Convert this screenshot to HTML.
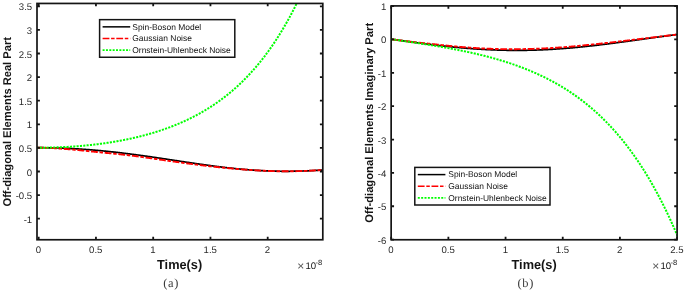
<!DOCTYPE html>
<html><head><meta charset="utf-8"><title>Off-diagonal elements</title>
<style>html,body{margin:0;padding:0;background:#fff}svg{display:block}</style>
</head><body>
<svg text-rendering="geometricPrecision" width="685" height="293" viewBox="0 0 685 293">
<defs>
<clipPath id="cl"><rect x="37" y="3.4" width="285.8" height="236.1"/></clipPath>
<clipPath id="cr"><rect x="391.2" y="6.1" width="285.9" height="233.5"/></clipPath>
</defs>
<rect width="685" height="293" fill="#fff"/>
<g clip-path="url(#cl)" fill="none" stroke-width="1.5">
<path d="M36.41,147.71 L37.13,147.70 L37.86,147.70 L38.58,147.70 L39.30,147.70 L40.03,147.70 L40.75,147.70 L41.47,147.71 L42.20,147.71 L42.92,147.71 L43.64,147.72 L44.36,147.73 L45.09,147.73 L45.81,147.74 L46.53,147.75 L47.26,147.76 L47.98,147.77 L48.70,147.78 L49.43,147.79 L50.15,147.80 L50.87,147.82 L51.60,147.83 L52.32,147.85 L53.04,147.86 L53.77,147.88 L54.49,147.90 L55.21,147.92 L55.94,147.94 L56.66,147.96 L57.38,147.98 L58.10,148.00 L58.83,148.02 L59.55,148.05 L60.27,148.07 L61.00,148.10 L61.72,148.12 L62.44,148.15 L63.17,148.18 L63.89,148.20 L64.61,148.23 L65.34,148.26 L66.06,148.30 L66.78,148.33 L67.51,148.36 L68.23,148.39 L68.95,148.43 L69.68,148.46 L70.40,148.50 L71.12,148.53 L71.84,148.57 L72.57,148.61 L73.29,148.65 L74.01,148.69 L74.74,148.73 L75.46,148.77 L76.18,148.81 L76.91,148.86 L77.63,148.90 L78.35,148.94 L79.08,148.99 L79.80,149.03 L80.52,149.08 L81.25,149.13 L81.97,149.18 L82.69,149.23 L83.42,149.28 L84.14,149.33 L84.86,149.38 L85.58,149.43 L86.31,149.48 L87.03,149.54 L87.75,149.59 L88.48,149.65 L89.20,149.70 L89.92,149.76 L90.65,149.82 L91.37,149.88 L92.09,149.94 L92.82,150.00 L93.54,150.06 L94.26,150.12 L94.99,150.18 L95.71,150.24 L96.43,150.31 L97.16,150.37 L97.88,150.44 L98.60,150.50 L99.32,150.57 L100.05,150.63 L100.77,150.70 L101.49,150.77 L102.22,150.84 L102.94,150.91 L103.66,150.98 L104.39,151.05 L105.11,151.12 L105.83,151.20 L106.56,151.27 L107.28,151.34 L108.00,151.42 L108.73,151.49 L109.45,151.57 L110.17,151.64 L110.90,151.72 L111.62,151.80 L112.34,151.88 L113.06,151.96 L113.79,152.04 L114.51,152.12 L115.23,152.20 L115.96,152.28 L116.68,152.36 L117.40,152.45 L118.13,152.53 L118.85,152.61 L119.57,152.70 L120.30,152.78 L121.02,152.87 L121.74,152.96 L122.47,153.04 L123.19,153.13 L123.91,153.22 L124.64,153.31 L125.36,153.40 L126.08,153.49 L126.80,153.58 L127.53,153.67 L128.25,153.76 L128.97,153.85 L129.70,153.94 L130.42,154.04 L131.14,154.13 L131.87,154.22 L132.59,154.32 L133.31,154.41 L134.04,154.51 L134.76,154.60 L135.48,154.70 L136.21,154.80 L136.93,154.89 L137.65,154.99 L138.38,155.09 L139.10,155.19 L139.82,155.29 L140.54,155.39 L141.27,155.49 L141.99,155.59 L142.71,155.69 L143.44,155.79 L144.16,155.89 L144.88,155.99 L145.61,156.09 L146.33,156.19 L147.05,156.30 L147.78,156.40 L148.50,156.50 L149.22,156.61 L149.95,156.71 L150.67,156.82 L151.39,156.92 L152.12,157.03 L152.84,157.13 L153.56,157.24 L154.28,157.34 L155.01,157.45 L155.73,157.55 L156.45,157.66 L157.18,157.77 L157.90,157.88 L158.62,157.98 L159.35,158.09 L160.07,158.20 L160.79,158.31 L161.52,158.41 L162.24,158.52 L162.96,158.63 L163.69,158.74 L164.41,158.85 L165.13,158.96 L165.86,159.06 L166.58,159.17 L167.30,159.28 L168.02,159.39 L168.75,159.50 L169.47,159.61 L170.19,159.72 L170.92,159.83 L171.64,159.94 L172.36,160.05 L173.09,160.16 L173.81,160.27 L174.53,160.38 L175.26,160.49 L175.98,160.60 L176.70,160.71 L177.43,160.82 L178.15,160.93 L178.87,161.04 L179.60,161.15 L180.32,161.26 L181.04,161.36 L181.76,161.47 L182.49,161.58 L183.21,161.69 L183.93,161.80 L184.66,161.91 L185.38,162.02 L186.10,162.13 L186.83,162.24 L187.55,162.34 L188.27,162.45 L189.00,162.56 L189.72,162.67 L190.44,162.77 L191.17,162.88 L191.89,162.99 L192.61,163.10 L193.34,163.20 L194.06,163.31 L194.78,163.41 L195.50,163.52 L196.23,163.63 L196.95,163.73 L197.67,163.83 L198.40,163.94 L199.12,164.04 L199.84,164.15 L200.57,164.25 L201.29,164.35 L202.01,164.46 L202.74,164.56 L203.46,164.66 L204.18,164.76 L204.91,164.86 L205.63,164.96 L206.35,165.06 L207.08,165.16 L207.80,165.26 L208.52,165.36 L209.24,165.46 L209.97,165.56 L210.69,165.65 L211.41,165.75 L212.14,165.85 L212.86,165.94 L213.58,166.04 L214.31,166.13 L215.03,166.23 L215.75,166.32 L216.48,166.41 L217.20,166.50 L217.92,166.60 L218.65,166.69 L219.37,166.78 L220.09,166.87 L220.82,166.96 L221.54,167.04 L222.26,167.13 L222.98,167.22 L223.71,167.30 L224.43,167.39 L225.15,167.48 L225.88,167.56 L226.60,167.64 L227.32,167.73 L228.05,167.81 L228.77,167.89 L229.49,167.97 L230.22,168.05 L230.94,168.13 L231.66,168.21 L232.39,168.28 L233.11,168.36 L233.83,168.44 L234.56,168.51 L235.28,168.59 L236.00,168.66 L236.72,168.73 L237.45,168.80 L238.17,168.87 L238.89,168.94 L239.62,169.01 L240.34,169.08 L241.06,169.15 L241.79,169.21 L242.51,169.28 L243.23,169.34 L243.96,169.41 L244.68,169.47 L245.40,169.53 L246.13,169.59 L246.85,169.65 L247.57,169.71 L248.30,169.77 L249.02,169.82 L249.74,169.88 L250.46,169.93 L251.19,169.99 L251.91,170.04 L252.63,170.09 L253.36,170.14 L254.08,170.19 L254.80,170.24 L255.53,170.29 L256.25,170.34 L256.97,170.38 L257.70,170.43 L258.42,170.47 L259.14,170.51 L259.87,170.55 L260.59,170.59 L261.31,170.63 L262.04,170.67 L262.76,170.71 L263.48,170.74 L264.20,170.78 L264.93,170.81 L265.65,170.85 L266.37,170.88 L267.10,170.91 L267.82,170.94 L268.54,170.96 L269.27,170.99 L269.99,171.02 L270.71,171.04 L271.44,171.07 L272.16,171.09 L272.88,171.11 L273.61,171.13 L274.33,171.15 L275.05,171.17 L275.78,171.18 L276.50,171.20 L277.22,171.21 L277.94,171.23 L278.67,171.24 L279.39,171.25 L280.11,171.26 L280.84,171.27 L281.56,171.28 L282.28,171.28 L283.01,171.29 L283.73,171.29 L284.45,171.29 L285.18,171.30 L285.90,171.30 L286.62,171.29 L287.35,171.29 L288.07,171.29 L288.79,171.29 L289.52,171.28 L290.24,171.27 L290.96,171.27 L291.68,171.26 L292.41,171.25 L293.13,171.24 L293.85,171.22 L294.58,171.21 L295.30,171.20 L296.02,171.18 L296.75,171.17 L297.47,171.15 L298.19,171.13 L298.92,171.11 L299.64,171.09 L300.36,171.07 L301.09,171.05 L301.81,171.03 L302.53,171.01 L303.26,170.98 L303.98,170.96 L304.70,170.93 L305.42,170.90 L306.15,170.87 L306.87,170.84 L307.59,170.81 L308.32,170.78 L309.04,170.75 L309.76,170.72 L310.49,170.68 L311.21,170.65 L311.93,170.61 L312.66,170.57 L313.38,170.53 L314.10,170.50 L314.83,170.46 L315.55,170.42 L316.27,170.37 L317.00,170.33 L317.72,170.29 L318.44,170.24 L319.16,170.20 L319.89,170.15 L320.61,170.10 L321.33,170.05 L322.06,170.01 L322.78,169.96 L323.50,169.90 L324.23,169.85 L324.95,169.80" stroke="#000" stroke-width="1.7"/>
<path d="M36.41,147.71 L37.13,147.70 L37.86,147.70 L38.58,147.70 L39.30,147.70 L40.03,147.70 L40.75,147.71 L41.47,147.72 L42.20,147.73 L42.92,147.74 L43.64,147.76 L44.36,147.77 L45.09,147.79 L45.81,147.81 L46.53,147.84 L47.26,147.86 L47.98,147.89 L48.70,147.92 L49.43,147.95 L50.15,147.98 L50.87,148.02 L51.60,148.05 L52.32,148.09 L53.04,148.13 L53.77,148.17 L54.49,148.21 L55.21,148.25 L55.94,148.30 L56.66,148.34 L57.38,148.39 L58.10,148.44 L58.83,148.49 L59.55,148.54 L60.27,148.59 L61.00,148.65 L61.72,148.70 L62.44,148.76 L63.17,148.81 L63.89,148.87 L64.61,148.93 L65.34,148.98 L66.06,149.04 L66.78,149.10 L67.51,149.16 L68.23,149.22 L68.95,149.28 L69.68,149.34 L70.40,149.41 L71.12,149.47 L71.84,149.53 L72.57,149.59 L73.29,149.65 L74.01,149.72 L74.74,149.78 L75.46,149.84 L76.18,149.90 L76.91,149.97 L77.63,150.03 L78.35,150.10 L79.08,150.16 L79.80,150.23 L80.52,150.30 L81.25,150.38 L81.97,150.45 L82.69,150.52 L83.42,150.60 L84.14,150.67 L84.86,150.75 L85.58,150.82 L86.31,150.90 L87.03,150.98 L87.75,151.06 L88.48,151.14 L89.20,151.21 L89.92,151.29 L90.65,151.37 L91.37,151.45 L92.09,151.53 L92.82,151.60 L93.54,151.68 L94.26,151.76 L94.99,151.83 L95.71,151.91 L96.43,151.98 L97.16,152.05 L97.88,152.13 L98.60,152.20 L99.32,152.27 L100.05,152.33 L100.77,152.40 L101.49,152.47 L102.22,152.54 L102.94,152.60 L103.66,152.67 L104.39,152.74 L105.11,152.81 L105.83,152.88 L106.56,152.95 L107.28,153.02 L108.00,153.09 L108.73,153.16 L109.45,153.23 L110.17,153.30 L110.90,153.37 L111.62,153.44 L112.34,153.51 L113.06,153.58 L113.79,153.65 L114.51,153.73 L115.23,153.80 L115.96,153.88 L116.68,153.95 L117.40,154.02 L118.13,154.10 L118.85,154.18 L119.57,154.25 L120.30,154.33 L121.02,154.41 L121.74,154.49 L122.47,154.56 L123.19,154.64 L123.91,154.72 L124.64,154.81 L125.36,154.89 L126.08,154.97 L126.80,155.05 L127.53,155.14 L128.25,155.22 L128.97,155.31 L129.70,155.39 L130.42,155.48 L131.14,155.57 L131.87,155.65 L132.59,155.74 L133.31,155.83 L134.04,155.93 L134.76,156.02 L135.48,156.11 L136.21,156.20 L136.93,156.30 L137.65,156.39 L138.38,156.49 L139.10,156.59 L139.82,156.69 L140.54,156.79 L141.27,156.89 L141.99,156.99 L142.71,157.09 L143.44,157.19 L144.16,157.29 L144.88,157.39 L145.61,157.49 L146.33,157.59 L147.05,157.70 L147.78,157.80 L148.50,157.90 L149.22,158.01 L149.95,158.11 L150.67,158.22 L151.39,158.32 L152.12,158.43 L152.84,158.53 L153.56,158.64 L154.28,158.74 L155.01,158.85 L155.73,158.95 L156.45,159.06 L157.18,159.17 L157.90,159.28 L158.62,159.38 L159.35,159.49 L160.07,159.60 L160.79,159.71 L161.52,159.81 L162.24,159.92 L162.96,160.03 L163.69,160.13 L164.41,160.24 L165.13,160.34 L165.86,160.45 L166.58,160.55 L167.30,160.66 L168.02,160.76 L168.75,160.86 L169.47,160.97 L170.19,161.07 L170.92,161.17 L171.64,161.28 L172.36,161.38 L173.09,161.48 L173.81,161.58 L174.53,161.68 L175.26,161.78 L175.98,161.88 L176.70,161.98 L177.43,162.08 L178.15,162.18 L178.87,162.28 L179.60,162.38 L180.32,162.48 L181.04,162.58 L181.76,162.68 L182.49,162.77 L183.21,162.87 L183.93,162.97 L184.66,163.07 L185.38,163.16 L186.10,163.26 L186.83,163.36 L187.55,163.45 L188.27,163.55 L189.00,163.64 L189.72,163.74 L190.44,163.83 L191.17,163.93 L191.89,164.02 L192.61,164.12 L193.34,164.21 L194.06,164.31 L194.78,164.40 L195.50,164.49 L196.23,164.59 L196.95,164.68 L197.67,164.77 L198.40,164.87 L199.12,164.96 L199.84,165.05 L200.57,165.14 L201.29,165.23 L202.01,165.33 L202.74,165.42 L203.46,165.50 L204.18,165.59 L204.91,165.68 L205.63,165.77 L206.35,165.85 L207.08,165.94 L207.80,166.02 L208.52,166.10 L209.24,166.19 L209.97,166.27 L210.69,166.35 L211.41,166.43 L212.14,166.51 L212.86,166.59 L213.58,166.67 L214.31,166.75 L215.03,166.82 L215.75,166.90 L216.48,166.98 L217.20,167.05 L217.92,167.13 L218.65,167.20 L219.37,167.28 L220.09,167.35 L220.82,167.43 L221.54,167.50 L222.26,167.57 L222.98,167.64 L223.71,167.71 L224.43,167.79 L225.15,167.86 L225.88,167.93 L226.60,168.00 L227.32,168.07 L228.05,168.14 L228.77,168.21 L229.49,168.27 L230.22,168.34 L230.94,168.41 L231.66,168.48 L232.39,168.55 L233.11,168.61 L233.83,168.68 L234.56,168.75 L235.28,168.81 L236.00,168.88 L236.72,168.94 L237.45,169.00 L238.17,169.06 L238.89,169.13 L239.62,169.19 L240.34,169.24 L241.06,169.30 L241.79,169.36 L242.51,169.42 L243.23,169.47 L243.96,169.53 L244.68,169.58 L245.40,169.64 L246.13,169.69 L246.85,169.74 L247.57,169.79 L248.30,169.84 L249.02,169.89 L249.74,169.94 L250.46,169.99 L251.19,170.04 L251.91,170.08 L252.63,170.13 L253.36,170.18 L254.08,170.22 L254.80,170.27 L255.53,170.31 L256.25,170.35 L256.97,170.39 L257.70,170.44 L258.42,170.48 L259.14,170.52 L259.87,170.56 L260.59,170.59 L261.31,170.63 L262.04,170.67 L262.76,170.71 L263.48,170.74 L264.20,170.78 L264.93,170.81 L265.65,170.85 L266.37,170.88 L267.10,170.91 L267.82,170.94 L268.54,170.96 L269.27,170.99 L269.99,171.02 L270.71,171.04 L271.44,171.07 L272.16,171.09 L272.88,171.11 L273.61,171.13 L274.33,171.15 L275.05,171.17 L275.78,171.18 L276.50,171.20 L277.22,171.21 L277.94,171.23 L278.67,171.24 L279.39,171.25 L280.11,171.26 L280.84,171.27 L281.56,171.28 L282.28,171.28 L283.01,171.29 L283.73,171.29 L284.45,171.29 L285.18,171.30 L285.90,171.30 L286.62,171.29 L287.35,171.29 L288.07,171.29 L288.79,171.29 L289.52,171.28 L290.24,171.27 L290.96,171.27 L291.68,171.26 L292.41,171.25 L293.13,171.24 L293.85,171.22 L294.58,171.21 L295.30,171.20 L296.02,171.18 L296.75,171.17 L297.47,171.15 L298.19,171.13 L298.92,171.11 L299.64,171.09 L300.36,171.07 L301.09,171.05 L301.81,171.03 L302.53,171.01 L303.26,170.98 L303.98,170.96 L304.70,170.93 L305.42,170.90 L306.15,170.87 L306.87,170.84 L307.59,170.81 L308.32,170.78 L309.04,170.75 L309.76,170.72 L310.49,170.68 L311.21,170.65 L311.93,170.61 L312.66,170.57 L313.38,170.53 L314.10,170.50 L314.83,170.46 L315.55,170.42 L316.27,170.37 L317.00,170.33 L317.72,170.29 L318.44,170.24 L319.16,170.20 L319.89,170.15 L320.61,170.10 L321.33,170.05 L322.06,170.01 L322.78,169.96 L323.50,169.90 L324.23,169.85 L324.95,169.80" stroke="#f00" stroke-width="1.9" stroke-dasharray="6.8 1.7 3.5 1.7"/>
<path d="M36.41,147.69 L37.13,147.70 L37.86,147.70 L38.58,147.70 L39.30,147.70 L40.03,147.70 L40.75,147.70 L41.47,147.69 L42.20,147.69 L42.92,147.68 L43.64,147.68 L44.36,147.67 L45.09,147.66 L45.81,147.65 L46.53,147.64 L47.26,147.63 L47.98,147.62 L48.70,147.60 L49.43,147.59 L50.15,147.57 L50.87,147.55 L51.60,147.54 L52.32,147.52 L53.04,147.50 L53.77,147.48 L54.49,147.46 L55.21,147.43 L55.94,147.41 L56.66,147.38 L57.38,147.36 L58.10,147.33 L58.83,147.30 L59.55,147.27 L60.27,147.24 L61.00,147.21 L61.72,147.18 L62.44,147.15 L63.17,147.11 L63.89,147.08 L64.61,147.04 L65.34,147.00 L66.06,146.96 L66.78,146.92 L67.51,146.88 L68.23,146.84 L68.95,146.80 L69.68,146.75 L70.40,146.71 L71.12,146.66 L71.84,146.61 L72.57,146.56 L73.29,146.51 L74.01,146.46 L74.74,146.41 L75.46,146.36 L76.18,146.30 L76.91,146.25 L77.63,146.19 L78.35,146.14 L79.08,146.08 L79.80,146.02 L80.52,145.96 L81.25,145.89 L81.97,145.83 L82.69,145.77 L83.42,145.70 L84.14,145.63 L84.86,145.57 L85.58,145.50 L86.31,145.43 L87.03,145.36 L87.75,145.28 L88.48,145.21 L89.20,145.13 L89.92,145.06 L90.65,144.98 L91.37,144.90 L92.09,144.82 L92.82,144.74 L93.54,144.66 L94.26,144.57 L94.99,144.49 L95.71,144.40 L96.43,144.32 L97.16,144.23 L97.88,144.14 L98.60,144.05 L99.32,143.95 L100.05,143.86 L100.77,143.77 L101.49,143.67 L102.22,143.57 L102.94,143.47 L103.66,143.37 L104.39,143.27 L105.11,143.17 L105.83,143.06 L106.56,142.96 L107.28,142.85 L108.00,142.74 L108.73,142.63 L109.45,142.52 L110.17,142.41 L110.90,142.29 L111.62,142.18 L112.34,142.06 L113.06,141.94 L113.79,141.82 L114.51,141.70 L115.23,141.58 L115.96,141.46 L116.68,141.33 L117.40,141.20 L118.13,141.07 L118.85,140.94 L119.57,140.81 L120.30,140.68 L121.02,140.54 L121.74,140.41 L122.47,140.27 L123.19,140.13 L123.91,139.99 L124.64,139.85 L125.36,139.70 L126.08,139.56 L126.80,139.41 L127.53,139.26 L128.25,139.11 L128.97,138.96 L129.70,138.80 L130.42,138.65 L131.14,138.49 L131.87,138.33 L132.59,138.17 L133.31,138.01 L134.04,137.84 L134.76,137.68 L135.48,137.51 L136.21,137.34 L136.93,137.17 L137.65,137.00 L138.38,136.82 L139.10,136.64 L139.82,136.46 L140.54,136.28 L141.27,136.10 L141.99,135.92 L142.71,135.73 L143.44,135.54 L144.16,135.35 L144.88,135.16 L145.61,134.97 L146.33,134.77 L147.05,134.57 L147.78,134.37 L148.50,134.17 L149.22,133.97 L149.95,133.76 L150.67,133.55 L151.39,133.34 L152.12,133.13 L152.84,132.91 L153.56,132.70 L154.28,132.48 L155.01,132.26 L155.73,132.03 L156.45,131.81 L157.18,131.58 L157.90,131.35 L158.62,131.12 L159.35,130.88 L160.07,130.64 L160.79,130.40 L161.52,130.16 L162.24,129.92 L162.96,129.67 L163.69,129.42 L164.41,129.17 L165.13,128.92 L165.86,128.66 L166.58,128.40 L167.30,128.14 L168.02,127.88 L168.75,127.61 L169.47,127.34 L170.19,127.07 L170.92,126.79 L171.64,126.52 L172.36,126.24 L173.09,125.96 L173.81,125.67 L174.53,125.38 L175.26,125.09 L175.98,124.80 L176.70,124.50 L177.43,124.20 L178.15,123.90 L178.87,123.60 L179.60,123.29 L180.32,122.98 L181.04,122.66 L181.76,122.35 L182.49,122.03 L183.21,121.70 L183.93,121.38 L184.66,121.05 L185.38,120.71 L186.10,120.38 L186.83,120.04 L187.55,119.70 L188.27,119.35 L189.00,119.00 L189.72,118.65 L190.44,118.30 L191.17,117.94 L191.89,117.58 L192.61,117.21 L193.34,116.84 L194.06,116.47 L194.78,116.09 L195.50,115.71 L196.23,115.33 L196.95,114.94 L197.67,114.55 L198.40,114.16 L199.12,113.76 L199.84,113.36 L200.57,112.95 L201.29,112.54 L202.01,112.13 L202.74,111.71 L203.46,111.29 L204.18,110.87 L204.91,110.44 L205.63,110.00 L206.35,109.57 L207.08,109.12 L207.80,108.68 L208.52,108.23 L209.24,107.77 L209.97,107.31 L210.69,106.85 L211.41,106.38 L212.14,105.91 L212.86,105.43 L213.58,104.95 L214.31,104.47 L215.03,103.98 L215.75,103.48 L216.48,102.98 L217.20,102.48 L217.92,101.97 L218.65,101.45 L219.37,100.94 L220.09,100.41 L220.82,99.88 L221.54,99.35 L222.26,98.81 L222.98,98.26 L223.71,97.71 L224.43,97.16 L225.15,96.60 L225.88,96.03 L226.60,95.46 L227.32,94.89 L228.05,94.31 L228.77,93.72 L229.49,93.12 L230.22,92.53 L230.94,91.92 L231.66,91.31 L232.39,90.70 L233.11,90.07 L233.83,89.45 L234.56,88.81 L235.28,88.17 L236.00,87.53 L236.72,86.87 L237.45,86.21 L238.17,85.55 L238.89,84.88 L239.62,84.20 L240.34,83.52 L241.06,82.82 L241.79,82.13 L242.51,81.42 L243.23,80.71 L243.96,79.99 L244.68,79.27 L245.40,78.54 L246.13,77.80 L246.85,77.05 L247.57,76.30 L248.30,75.54 L249.02,74.77 L249.74,73.99 L250.46,73.21 L251.19,72.42 L251.91,71.62 L252.63,70.82 L253.36,70.00 L254.08,69.18 L254.80,68.35 L255.53,67.51 L256.25,66.67 L256.97,65.81 L257.70,64.95 L258.42,64.08 L259.14,63.20 L259.87,62.31 L260.59,61.42 L261.31,60.51 L262.04,59.60 L262.76,58.68 L263.48,57.75 L264.20,56.80 L264.93,55.85 L265.65,54.90 L266.37,53.93 L267.10,52.95 L267.82,51.96 L268.54,50.96 L269.27,49.96 L269.99,48.94 L270.71,47.91 L271.44,46.88 L272.16,45.83 L272.88,44.77 L273.61,43.70 L274.33,42.63 L275.05,41.54 L275.78,40.44 L276.50,39.33 L277.22,38.21 L277.94,37.07 L278.67,35.93 L279.39,34.78 L280.11,33.61 L280.84,32.43 L281.56,31.24 L282.28,30.04 L283.01,28.83 L283.73,27.60 L284.45,26.37 L285.18,25.12 L285.90,23.86 L286.62,22.58 L287.35,21.30 L288.07,20.00 L288.79,18.69 L289.52,17.36 L290.24,16.02 L290.96,14.67 L291.68,13.31 L292.41,11.93 L293.13,10.54 L293.85,9.13 L294.58,7.71 L295.30,6.28 L296.02,4.83 L296.75,3.36 L297.47,1.89 L298.19,0.40 L298.92,-1.11 L299.64,-2.63 L300.36,-4.17 L301.09,-5.72 L301.81,-7.29 L302.53,-8.87 L303.26,-10.47 L303.98,-12.09 L304.70,-13.72 L305.42,-15.37 L306.15,-17.03 L306.87,-18.71 L307.59,-20.41 L308.32,-22.13 L309.04,-23.86 L309.76,-25.61 L310.49,-27.37 L311.21,-29.16 L311.93,-30.96 L312.66,-32.78 L313.38,-34.62 L314.10,-36.48 L314.83,-38.35 L315.55,-40.25 L316.27,-42.16 L317.00,-44.10 L317.72,-46.05 L318.44,-48.02 L319.16,-50.01 L319.89,-52.02 L320.61,-54.06 L321.33,-56.11 L322.06,-58.18 L322.78,-60.28 L323.50,-62.39 L324.23,-64.53 L324.95,-66.69" stroke="#0f0" stroke-width="2.0" stroke-dasharray="2.1 1.25"/>
</g>
<g clip-path="url(#cr)" fill="none" stroke-width="1.5">
<path d="M391.20,39.20 L391.92,39.30 L392.64,39.40 L393.37,39.50 L394.09,39.60 L394.81,39.70 L395.53,39.81 L396.26,39.91 L396.98,40.01 L397.70,40.11 L398.42,40.21 L399.15,40.31 L399.87,40.41 L400.59,40.51 L401.31,40.61 L402.03,40.71 L402.76,40.81 L403.48,40.91 L404.20,41.01 L404.92,41.11 L405.65,41.21 L406.37,41.31 L407.09,41.41 L407.81,41.50 L408.53,41.60 L409.26,41.70 L409.98,41.80 L410.70,41.90 L411.42,42.00 L412.15,42.09 L412.87,42.19 L413.59,42.29 L414.31,42.39 L415.04,42.48 L415.76,42.58 L416.48,42.67 L417.20,42.77 L417.92,42.87 L418.65,42.96 L419.37,43.06 L420.09,43.15 L420.81,43.24 L421.54,43.34 L422.26,43.43 L422.98,43.53 L423.70,43.62 L424.42,43.71 L425.15,43.80 L425.87,43.89 L426.59,43.99 L427.31,44.08 L428.04,44.17 L428.76,44.26 L429.48,44.35 L430.20,44.44 L430.93,44.53 L431.65,44.61 L432.37,44.70 L433.09,44.79 L433.81,44.88 L434.54,44.96 L435.26,45.05 L435.98,45.14 L436.70,45.22 L437.43,45.31 L438.15,45.39 L438.87,45.47 L439.59,45.56 L440.31,45.64 L441.04,45.72 L441.76,45.80 L442.48,45.89 L443.20,45.97 L443.93,46.05 L444.65,46.13 L445.37,46.20 L446.09,46.28 L446.82,46.36 L447.54,46.44 L448.26,46.51 L448.98,46.59 L449.70,46.67 L450.43,46.74 L451.15,46.81 L451.87,46.89 L452.59,46.96 L453.32,47.03 L454.04,47.11 L454.76,47.18 L455.48,47.25 L456.20,47.32 L456.93,47.39 L457.65,47.45 L458.37,47.52 L459.09,47.59 L459.82,47.65 L460.54,47.72 L461.26,47.79 L461.98,47.85 L462.71,47.91 L463.43,47.98 L464.15,48.04 L464.87,48.10 L465.59,48.16 L466.32,48.22 L467.04,48.28 L467.76,48.34 L468.48,48.40 L469.21,48.45 L469.93,48.51 L470.65,48.56 L471.37,48.62 L472.09,48.67 L472.82,48.73 L473.54,48.78 L474.26,48.83 L474.98,48.88 L475.71,48.93 L476.43,48.98 L477.15,49.03 L477.87,49.08 L478.60,49.12 L479.32,49.17 L480.04,49.21 L480.76,49.26 L481.48,49.30 L482.21,49.35 L482.93,49.39 L483.65,49.43 L484.37,49.47 L485.10,49.51 L485.82,49.55 L486.54,49.58 L487.26,49.62 L487.98,49.66 L488.71,49.69 L489.43,49.73 L490.15,49.76 L490.87,49.79 L491.60,49.82 L492.32,49.86 L493.04,49.89 L493.76,49.91 L494.49,49.94 L495.21,49.97 L495.93,50.00 L496.65,50.02 L497.37,50.05 L498.10,50.07 L498.82,50.09 L499.54,50.12 L500.26,50.14 L500.99,50.16 L501.71,50.18 L502.43,50.20 L503.15,50.21 L503.87,50.23 L504.60,50.25 L505.32,50.26 L506.04,50.27 L506.76,50.29 L507.49,50.30 L508.21,50.31 L508.93,50.32 L509.65,50.33 L510.38,50.34 L511.10,50.35 L511.82,50.35 L512.54,50.36 L513.26,50.36 L513.99,50.37 L514.71,50.37 L515.43,50.37 L516.15,50.38 L516.88,50.38 L517.60,50.38 L518.32,50.37 L519.04,50.37 L519.76,50.37 L520.49,50.36 L521.21,50.36 L521.93,50.35 L522.65,50.35 L523.38,50.34 L524.10,50.33 L524.82,50.32 L525.54,50.31 L526.27,50.30 L526.99,50.29 L527.71,50.27 L528.43,50.26 L529.15,50.24 L529.88,50.23 L530.60,50.21 L531.32,50.19 L532.04,50.17 L532.77,50.15 L533.49,50.13 L534.21,50.11 L534.93,50.09 L535.65,50.07 L536.38,50.04 L537.10,50.02 L537.82,49.99 L538.54,49.97 L539.27,49.94 L539.99,49.91 L540.71,49.88 L541.43,49.85 L542.16,49.82 L542.88,49.79 L543.60,49.75 L544.32,49.72 L545.04,49.69 L545.77,49.65 L546.49,49.62 L547.21,49.58 L547.93,49.54 L548.66,49.50 L549.38,49.46 L550.10,49.42 L550.82,49.38 L551.54,49.34 L552.27,49.30 L552.99,49.25 L553.71,49.21 L554.43,49.16 L555.16,49.12 L555.88,49.07 L556.60,49.02 L557.32,48.97 L558.05,48.92 L558.77,48.87 L559.49,48.82 L560.21,48.77 L560.93,48.72 L561.66,48.66 L562.38,48.61 L563.10,48.56 L563.82,48.50 L564.55,48.44 L565.27,48.39 L565.99,48.33 L566.71,48.27 L567.43,48.21 L568.16,48.15 L568.88,48.09 L569.60,48.03 L570.32,47.97 L571.05,47.90 L571.77,47.84 L572.49,47.78 L573.21,47.71 L573.94,47.64 L574.66,47.58 L575.38,47.51 L576.10,47.44 L576.82,47.37 L577.55,47.31 L578.27,47.24 L578.99,47.17 L579.71,47.09 L580.44,47.02 L581.16,46.95 L581.88,46.88 L582.60,46.80 L583.32,46.73 L584.05,46.65 L584.77,46.58 L585.49,46.50 L586.21,46.43 L586.94,46.35 L587.66,46.27 L588.38,46.19 L589.10,46.11 L589.83,46.03 L590.55,45.95 L591.27,45.87 L591.99,45.79 L592.71,45.71 L593.44,45.63 L594.16,45.54 L594.88,45.46 L595.60,45.38 L596.33,45.29 L597.05,45.21 L597.77,45.12 L598.49,45.04 L599.21,44.95 L599.94,44.86 L600.66,44.78 L601.38,44.69 L602.10,44.60 L602.83,44.51 L603.55,44.42 L604.27,44.33 L604.99,44.24 L605.72,44.15 L606.44,44.06 L607.16,43.97 L607.88,43.88 L608.60,43.79 L609.33,43.70 L610.05,43.60 L610.77,43.51 L611.49,43.42 L612.22,43.32 L612.94,43.23 L613.66,43.14 L614.38,43.04 L615.10,42.95 L615.83,42.85 L616.55,42.76 L617.27,42.66 L617.99,42.56 L618.72,42.47 L619.44,42.37 L620.16,42.27 L620.88,42.18 L621.61,42.08 L622.33,41.98 L623.05,41.88 L623.77,41.79 L624.49,41.69 L625.22,41.59 L625.94,41.49 L626.66,41.39 L627.38,41.29 L628.11,41.19 L628.83,41.09 L629.55,40.99 L630.27,40.89 L630.99,40.79 L631.72,40.69 L632.44,40.59 L633.16,40.49 L633.88,40.39 L634.61,40.29 L635.33,40.19 L636.05,40.09 L636.77,39.99 L637.50,39.89 L638.22,39.79 L638.94,39.69 L639.66,39.59 L640.38,39.49 L641.11,39.39 L641.83,39.29 L642.55,39.18 L643.27,39.08 L644.00,38.98 L644.72,38.88 L645.44,38.78 L646.16,38.68 L646.88,38.58 L647.61,38.48 L648.33,38.38 L649.05,38.28 L649.77,38.18 L650.50,38.08 L651.22,37.98 L651.94,37.88 L652.66,37.78 L653.39,37.68 L654.11,37.58 L654.83,37.48 L655.55,37.38 L656.27,37.28 L657.00,37.18 L657.72,37.08 L658.44,36.98 L659.16,36.88 L659.89,36.78 L660.61,36.68 L661.33,36.58 L662.05,36.49 L662.77,36.39 L663.50,36.29 L664.22,36.19 L664.94,36.10 L665.66,36.00 L666.39,35.90 L667.11,35.81 L667.83,35.71 L668.55,35.62 L669.28,35.52 L670.00,35.42 L670.72,35.33 L671.44,35.24 L672.16,35.14 L672.89,35.05 L673.61,34.95 L674.33,34.86 L675.05,34.77 L675.78,34.68 L676.50,34.58 L677.22,34.49 L677.94,34.40 L678.66,34.31 L679.39,34.22" stroke="#000" stroke-width="1.7"/>
<path d="M391.20,39.20 L391.92,39.30 L392.64,39.40 L393.37,39.50 L394.09,39.60 L394.81,39.70 L395.53,39.79 L396.26,39.89 L396.98,39.98 L397.70,40.08 L398.42,40.17 L399.15,40.27 L399.87,40.36 L400.59,40.45 L401.31,40.54 L402.03,40.64 L402.76,40.73 L403.48,40.82 L404.20,40.91 L404.92,41.00 L405.65,41.08 L406.37,41.17 L407.09,41.26 L407.81,41.35 L408.53,41.43 L409.26,41.52 L409.98,41.60 L410.70,41.69 L411.42,41.77 L412.15,41.86 L412.87,41.94 L413.59,42.03 L414.31,42.11 L415.04,42.19 L415.76,42.27 L416.48,42.36 L417.20,42.44 L417.92,42.52 L418.65,42.60 L419.37,42.68 L420.09,42.76 L420.81,42.84 L421.54,42.92 L422.26,43.00 L422.98,43.08 L423.70,43.16 L424.42,43.24 L425.15,43.32 L425.87,43.39 L426.59,43.47 L427.31,43.55 L428.04,43.63 L428.76,43.71 L429.48,43.78 L430.20,43.86 L430.93,43.94 L431.65,44.02 L432.37,44.09 L433.09,44.17 L433.81,44.25 L434.54,44.32 L435.26,44.40 L435.98,44.48 L436.70,44.56 L437.43,44.63 L438.15,44.71 L438.87,44.79 L439.59,44.86 L440.31,44.94 L441.04,45.02 L441.76,45.09 L442.48,45.17 L443.20,45.25 L443.93,45.32 L444.65,45.40 L445.37,45.47 L446.09,45.54 L446.82,45.62 L447.54,45.69 L448.26,45.76 L448.98,45.84 L449.70,45.91 L450.43,45.98 L451.15,46.05 L451.87,46.12 L452.59,46.19 L453.32,46.26 L454.04,46.33 L454.76,46.39 L455.48,46.46 L456.20,46.53 L456.93,46.59 L457.65,46.66 L458.37,46.72 L459.09,46.79 L459.82,46.85 L460.54,46.91 L461.26,46.97 L461.98,47.03 L462.71,47.10 L463.43,47.16 L464.15,47.21 L464.87,47.27 L465.59,47.33 L466.32,47.39 L467.04,47.44 L467.76,47.50 L468.48,47.55 L469.21,47.61 L469.93,47.66 L470.65,47.71 L471.37,47.76 L472.09,47.81 L472.82,47.86 L473.54,47.91 L474.26,47.96 L474.98,48.01 L475.71,48.06 L476.43,48.10 L477.15,48.15 L477.87,48.19 L478.60,48.23 L479.32,48.28 L480.04,48.32 L480.76,48.36 L481.48,48.40 L482.21,48.43 L482.93,48.47 L483.65,48.51 L484.37,48.54 L485.10,48.58 L485.82,48.61 L486.54,48.64 L487.26,48.68 L487.98,48.71 L488.71,48.74 L489.43,48.76 L490.15,48.79 L490.87,48.82 L491.60,48.85 L492.32,48.87 L493.04,48.89 L493.76,48.92 L494.49,48.94 L495.21,48.96 L495.93,48.98 L496.65,49.00 L497.37,49.02 L498.10,49.04 L498.82,49.05 L499.54,49.07 L500.26,49.08 L500.99,49.10 L501.71,49.11 L502.43,49.12 L503.15,49.13 L503.87,49.14 L504.60,49.15 L505.32,49.16 L506.04,49.17 L506.76,49.17 L507.49,49.18 L508.21,49.19 L508.93,49.19 L509.65,49.19 L510.38,49.20 L511.10,49.20 L511.82,49.20 L512.54,49.20 L513.26,49.20 L513.99,49.19 L514.71,49.19 L515.43,49.19 L516.15,49.18 L516.88,49.18 L517.60,49.17 L518.32,49.16 L519.04,49.16 L519.76,49.15 L520.49,49.14 L521.21,49.13 L521.93,49.12 L522.65,49.11 L523.38,49.09 L524.10,49.08 L524.82,49.07 L525.54,49.05 L526.27,49.04 L526.99,49.02 L527.71,49.00 L528.43,48.99 L529.15,48.97 L529.88,48.95 L530.60,48.93 L531.32,48.91 L532.04,48.89 L532.77,48.87 L533.49,48.84 L534.21,48.82 L534.93,48.80 L535.65,48.77 L536.38,48.75 L537.10,48.72 L537.82,48.69 L538.54,48.67 L539.27,48.64 L539.99,48.61 L540.71,48.58 L541.43,48.55 L542.16,48.52 L542.88,48.49 L543.60,48.45 L544.32,48.42 L545.04,48.39 L545.77,48.35 L546.49,48.32 L547.21,48.28 L547.93,48.24 L548.66,48.20 L549.38,48.16 L550.10,48.12 L550.82,48.08 L551.54,48.04 L552.27,48.00 L552.99,47.95 L553.71,47.91 L554.43,47.86 L555.16,47.82 L555.88,47.77 L556.60,47.72 L557.32,47.67 L558.05,47.62 L558.77,47.57 L559.49,47.52 L560.21,47.47 L560.93,47.42 L561.66,47.36 L562.38,47.31 L563.10,47.26 L563.82,47.20 L564.55,47.14 L565.27,47.09 L565.99,47.03 L566.71,46.97 L567.43,46.91 L568.16,46.85 L568.88,46.79 L569.60,46.73 L570.32,46.67 L571.05,46.60 L571.77,46.54 L572.49,46.48 L573.21,46.41 L573.94,46.34 L574.66,46.28 L575.38,46.21 L576.10,46.14 L576.82,46.07 L577.55,46.01 L578.27,45.94 L578.99,45.87 L579.71,45.79 L580.44,45.72 L581.16,45.65 L581.88,45.58 L582.60,45.51 L583.32,45.43 L584.05,45.36 L584.77,45.29 L585.49,45.22 L586.21,45.14 L586.94,45.07 L587.66,44.99 L588.38,44.92 L589.10,44.85 L589.83,44.77 L590.55,44.70 L591.27,44.62 L591.99,44.55 L592.71,44.47 L593.44,44.40 L594.16,44.32 L594.88,44.24 L595.60,44.17 L596.33,44.09 L597.05,44.01 L597.77,43.93 L598.49,43.86 L599.21,43.78 L599.94,43.70 L600.66,43.62 L601.38,43.54 L602.10,43.46 L602.83,43.38 L603.55,43.30 L604.27,43.22 L604.99,43.14 L605.72,43.06 L606.44,42.98 L607.16,42.90 L607.88,42.82 L608.60,42.74 L609.33,42.65 L610.05,42.57 L610.77,42.49 L611.49,42.40 L612.22,42.32 L612.94,42.24 L613.66,42.15 L614.38,42.07 L615.10,41.98 L615.83,41.90 L616.55,41.81 L617.27,41.72 L617.99,41.64 L618.72,41.55 L619.44,41.46 L620.16,41.38 L620.88,41.29 L621.61,41.20 L622.33,41.11 L623.05,41.03 L623.77,40.94 L624.49,40.85 L625.22,40.76 L625.94,40.68 L626.66,40.59 L627.38,40.50 L628.11,40.42 L628.83,40.33 L629.55,40.24 L630.27,40.16 L630.99,40.07 L631.72,39.98 L632.44,39.89 L633.16,39.81 L633.88,39.72 L634.61,39.63 L635.33,39.55 L636.05,39.46 L636.77,39.37 L637.50,39.29 L638.22,39.20 L638.94,39.11 L639.66,39.03 L640.38,38.94 L641.11,38.85 L641.83,38.77 L642.55,38.68 L643.27,38.59 L644.00,38.51 L644.72,38.42 L645.44,38.33 L646.16,38.25 L646.88,38.16 L647.61,38.07 L648.33,37.99 L649.05,37.90 L649.77,37.81 L650.50,37.72 L651.22,37.64 L651.94,37.55 L652.66,37.46 L653.39,37.37 L654.11,37.29 L654.83,37.20 L655.55,37.11 L656.27,37.02 L657.00,36.93 L657.72,36.85 L658.44,36.76 L659.16,36.67 L659.89,36.58 L660.61,36.49 L661.33,36.40 L662.05,36.32 L662.77,36.23 L663.50,36.14 L664.22,36.06 L664.94,35.97 L665.66,35.89 L666.39,35.80 L667.11,35.72 L667.83,35.63 L668.55,35.54 L669.28,35.46 L670.00,35.37 L670.72,35.29 L671.44,35.20 L672.16,35.11 L672.89,35.03 L673.61,34.94 L674.33,34.85 L675.05,34.76 L675.78,34.67 L676.50,34.58 L677.22,34.49 L677.94,34.40 L678.66,34.31 L679.39,34.22" stroke="#f00" stroke-width="1.9" stroke-dasharray="6.8 1.7 3.5 1.7"/>
<path d="M391.20,39.20 L391.92,39.30 L392.64,39.41 L393.37,39.51 L394.09,39.62 L394.81,39.72 L395.53,39.82 L396.26,39.93 L396.98,40.03 L397.70,40.13 L398.42,40.24 L399.15,40.34 L399.87,40.45 L400.59,40.55 L401.31,40.66 L402.03,40.76 L402.76,40.87 L403.48,40.97 L404.20,41.08 L404.92,41.18 L405.65,41.29 L406.37,41.39 L407.09,41.50 L407.81,41.60 L408.53,41.71 L409.26,41.82 L409.98,41.92 L410.70,42.03 L411.42,42.14 L412.15,42.24 L412.87,42.35 L413.59,42.46 L414.31,42.57 L415.04,42.68 L415.76,42.78 L416.48,42.89 L417.20,43.00 L417.92,43.11 L418.65,43.22 L419.37,43.33 L420.09,43.44 L420.81,43.55 L421.54,43.66 L422.26,43.78 L422.98,43.89 L423.70,44.00 L424.42,44.11 L425.15,44.23 L425.87,44.34 L426.59,44.45 L427.31,44.57 L428.04,44.68 L428.76,44.80 L429.48,44.91 L430.20,45.03 L430.93,45.15 L431.65,45.26 L432.37,45.38 L433.09,45.50 L433.81,45.62 L434.54,45.74 L435.26,45.86 L435.98,45.98 L436.70,46.10 L437.43,46.22 L438.15,46.34 L438.87,46.47 L439.59,46.59 L440.31,46.71 L441.04,46.84 L441.76,46.96 L442.48,47.09 L443.20,47.21 L443.93,47.34 L444.65,47.47 L445.37,47.60 L446.09,47.73 L446.82,47.86 L447.54,47.99 L448.26,48.12 L448.98,48.25 L449.70,48.38 L450.43,48.52 L451.15,48.65 L451.87,48.78 L452.59,48.92 L453.32,49.06 L454.04,49.19 L454.76,49.33 L455.48,49.47 L456.20,49.61 L456.93,49.75 L457.65,49.89 L458.37,50.04 L459.09,50.18 L459.82,50.32 L460.54,50.47 L461.26,50.61 L461.98,50.76 L462.71,50.91 L463.43,51.06 L464.15,51.21 L464.87,51.36 L465.59,51.51 L466.32,51.66 L467.04,51.82 L467.76,51.97 L468.48,52.13 L469.21,52.28 L469.93,52.44 L470.65,52.60 L471.37,52.76 L472.09,52.92 L472.82,53.08 L473.54,53.25 L474.26,53.41 L474.98,53.58 L475.71,53.75 L476.43,53.91 L477.15,54.08 L477.87,54.25 L478.60,54.42 L479.32,54.60 L480.04,54.77 L480.76,54.95 L481.48,55.12 L482.21,55.30 L482.93,55.48 L483.65,55.66 L484.37,55.84 L485.10,56.03 L485.82,56.21 L486.54,56.40 L487.26,56.59 L487.98,56.77 L488.71,56.96 L489.43,57.16 L490.15,57.35 L490.87,57.54 L491.60,57.74 L492.32,57.94 L493.04,58.14 L493.76,58.34 L494.49,58.54 L495.21,58.74 L495.93,58.95 L496.65,59.15 L497.37,59.36 L498.10,59.57 L498.82,59.78 L499.54,60.00 L500.26,60.21 L500.99,60.43 L501.71,60.65 L502.43,60.87 L503.15,61.09 L503.87,61.31 L504.60,61.54 L505.32,61.76 L506.04,61.99 L506.76,62.22 L507.49,62.46 L508.21,62.69 L508.93,62.93 L509.65,63.17 L510.38,63.41 L511.10,63.65 L511.82,63.89 L512.54,64.14 L513.26,64.39 L513.99,64.64 L514.71,64.89 L515.43,65.14 L516.15,65.40 L516.88,65.66 L517.60,65.92 L518.32,66.18 L519.04,66.44 L519.76,66.71 L520.49,66.98 L521.21,67.25 L521.93,67.52 L522.65,67.80 L523.38,68.07 L524.10,68.35 L524.82,68.64 L525.54,68.92 L526.27,69.21 L526.99,69.50 L527.71,69.79 L528.43,70.08 L529.15,70.38 L529.88,70.68 L530.60,70.98 L531.32,71.29 L532.04,71.59 L532.77,71.90 L533.49,72.21 L534.21,72.53 L534.93,72.84 L535.65,73.16 L536.38,73.49 L537.10,73.81 L537.82,74.14 L538.54,74.47 L539.27,74.80 L539.99,75.14 L540.71,75.48 L541.43,75.82 L542.16,76.16 L542.88,76.51 L543.60,76.86 L544.32,77.21 L545.04,77.57 L545.77,77.93 L546.49,78.29 L547.21,78.66 L547.93,79.03 L548.66,79.40 L549.38,79.77 L550.10,80.15 L550.82,80.53 L551.54,80.91 L552.27,81.30 L552.99,81.69 L553.71,82.09 L554.43,82.48 L555.16,82.89 L555.88,83.29 L556.60,83.70 L557.32,84.11 L558.05,84.52 L558.77,84.94 L559.49,85.36 L560.21,85.79 L560.93,86.22 L561.66,86.65 L562.38,87.09 L563.10,87.53 L563.82,87.97 L564.55,88.42 L565.27,88.87 L565.99,89.32 L566.71,89.78 L567.43,90.24 L568.16,90.71 L568.88,91.18 L569.60,91.66 L570.32,92.14 L571.05,92.62 L571.77,93.11 L572.49,93.60 L573.21,94.09 L573.94,94.59 L574.66,95.10 L575.38,95.61 L576.10,96.12 L576.82,96.64 L577.55,97.16 L578.27,97.68 L578.99,98.21 L579.71,98.75 L580.44,99.29 L581.16,99.83 L581.88,100.38 L582.60,100.94 L583.32,101.49 L584.05,102.06 L584.77,102.62 L585.49,103.20 L586.21,103.78 L586.94,104.36 L587.66,104.95 L588.38,105.54 L589.10,106.14 L589.83,106.74 L590.55,107.35 L591.27,107.96 L591.99,108.58 L592.71,109.20 L593.44,109.83 L594.16,110.47 L594.88,111.11 L595.60,111.75 L596.33,112.40 L597.05,113.06 L597.77,113.72 L598.49,114.39 L599.21,115.07 L599.94,115.75 L600.66,116.43 L601.38,117.12 L602.10,117.82 L602.83,118.52 L603.55,119.23 L604.27,119.95 L604.99,120.67 L605.72,121.40 L606.44,122.13 L607.16,122.87 L607.88,123.62 L608.60,124.37 L609.33,125.13 L610.05,125.90 L610.77,126.67 L611.49,127.45 L612.22,128.24 L612.94,129.03 L613.66,129.83 L614.38,130.64 L615.10,131.45 L615.83,132.27 L616.55,133.10 L617.27,133.93 L617.99,134.78 L618.72,135.62 L619.44,136.48 L620.16,137.34 L620.88,138.22 L621.61,139.10 L622.33,139.98 L623.05,140.88 L623.77,141.78 L624.49,142.69 L625.22,143.60 L625.94,144.53 L626.66,145.46 L627.38,146.40 L628.11,147.35 L628.83,148.31 L629.55,149.28 L630.27,150.25 L630.99,151.23 L631.72,152.22 L632.44,153.22 L633.16,154.23 L633.88,155.25 L634.61,156.27 L635.33,157.31 L636.05,158.35 L636.77,159.40 L637.50,160.46 L638.22,161.53 L638.94,162.61 L639.66,163.70 L640.38,164.80 L641.11,165.91 L641.83,167.02 L642.55,168.15 L643.27,169.29 L644.00,170.43 L644.72,171.59 L645.44,172.75 L646.16,173.93 L646.88,175.12 L647.61,176.31 L648.33,177.52 L649.05,178.73 L649.77,179.96 L650.50,181.20 L651.22,182.45 L651.94,183.71 L652.66,184.98 L653.39,186.26 L654.11,187.55 L654.83,188.85 L655.55,190.17 L656.27,191.49 L657.00,192.83 L657.72,194.18 L658.44,195.54 L659.16,196.91 L659.89,198.29 L660.61,199.69 L661.33,201.10 L662.05,202.52 L662.77,203.95 L663.50,205.39 L664.22,206.85 L664.94,208.32 L665.66,209.80 L666.39,211.29 L667.11,212.80 L667.83,214.32 L668.55,215.86 L669.28,217.40 L670.00,218.96 L670.72,220.53 L671.44,222.12 L672.16,223.72 L672.89,225.34 L673.61,226.96 L674.33,228.60 L675.05,230.26 L675.78,231.93 L676.50,233.62 L677.22,235.31 L677.94,237.03 L678.66,238.76 L679.39,240.50" stroke="#0f0" stroke-width="2.0" stroke-dasharray="2.1 1.25"/>
</g>
<rect x="37.0" y="3.45" width="285.80" height="236.30" fill="none" stroke="#141414" stroke-width="1.7"/>
<path d="M38.70,239.75v-2.9M38.70,3.45v2.9M95.95,239.75v-2.9M95.95,3.45v2.9M153.20,239.75v-2.9M153.20,3.45v2.9M210.45,239.75v-2.9M210.45,3.45v2.9M267.70,239.75v-2.9M267.70,3.45v2.9M37.0,6.30h2.9M322.8,6.30h-2.9M37.0,29.90h2.9M322.8,29.90h-2.9M37.0,53.50h2.9M322.8,53.50h-2.9M37.0,77.10h2.9M322.8,77.10h-2.9M37.0,100.70h2.9M322.8,100.70h-2.9M37.0,124.30h2.9M322.8,124.30h-2.9M37.0,147.90h2.9M322.8,147.90h-2.9M37.0,171.50h2.9M322.8,171.50h-2.9M37.0,195.10h2.9M322.8,195.10h-2.9M37.0,218.70h2.9M322.8,218.70h-2.9" stroke="#141414" stroke-width="1.8" fill="none"/>
<g font-family="Liberation Sans, Arial, Helvetica, sans-serif" font-size="9.6" fill="#2a2a2a">
<text x="38.50" y="253.4" text-anchor="middle">0</text>
<text x="95.75" y="253.4" text-anchor="middle">0.5</text>
<text x="153.00" y="253.4" text-anchor="middle">1</text>
<text x="210.25" y="253.4" text-anchor="middle">1.5</text>
<text x="267.50" y="253.4" text-anchor="middle">2</text>
<text x="32.20" y="10.30" text-anchor="end">3.5</text>
<text x="32.20" y="33.90" text-anchor="end">3</text>
<text x="32.20" y="57.50" text-anchor="end">2.5</text>
<text x="32.20" y="81.10" text-anchor="end">2</text>
<text x="32.20" y="104.70" text-anchor="end">1.5</text>
<text x="32.20" y="128.30" text-anchor="end">1</text>
<text x="32.20" y="151.90" text-anchor="end">0.5</text>
<text x="32.20" y="175.50" text-anchor="end">0</text>
<text x="32.20" y="199.10" text-anchor="end">-0.5</text>
<text x="32.20" y="222.70" text-anchor="end">-1</text>
</g>
<rect x="391.15" y="5.9" width="285.95" height="233.85" fill="none" stroke="#141414" stroke-width="1.7"/>
<path d="M391.20,239.75v-2.9M391.20,5.9v2.9M448.38,239.75v-2.9M448.38,5.9v2.9M505.56,239.75v-2.9M505.56,5.9v2.9M562.74,239.75v-2.9M562.74,5.9v2.9M619.92,239.75v-2.9M619.92,5.9v2.9M677.10,239.75v-2.9M677.10,5.9v2.9M391.15,6.10h2.9M677.1,6.10h-2.9M391.15,39.46h2.9M677.1,39.46h-2.9M391.15,72.82h2.9M677.1,72.82h-2.9M391.15,106.18h2.9M677.1,106.18h-2.9M391.15,139.54h2.9M677.1,139.54h-2.9M391.15,172.90h2.9M677.1,172.90h-2.9M391.15,206.26h2.9M677.1,206.26h-2.9M391.15,239.62h2.9M677.1,239.62h-2.9" stroke="#141414" stroke-width="1.8" fill="none"/>
<g font-family="Liberation Sans, Arial, Helvetica, sans-serif" font-size="9.6" fill="#2a2a2a">
<text x="391.00" y="253.4" text-anchor="middle">0</text>
<text x="448.18" y="253.4" text-anchor="middle">0.5</text>
<text x="505.36" y="253.4" text-anchor="middle">1</text>
<text x="562.54" y="253.4" text-anchor="middle">1.5</text>
<text x="619.72" y="253.4" text-anchor="middle">2</text>
<text x="676.90" y="253.4" text-anchor="middle">2.5</text>
<text x="386.35" y="10.10" text-anchor="end">1</text>
<text x="386.35" y="43.46" text-anchor="end">0</text>
<text x="386.35" y="76.82" text-anchor="end">-1</text>
<text x="386.35" y="110.18" text-anchor="end">-2</text>
<text x="386.35" y="143.54" text-anchor="end">-3</text>
<text x="386.35" y="176.90" text-anchor="end">-4</text>
<text x="386.35" y="210.26" text-anchor="end">-5</text>
<text x="386.35" y="243.62" text-anchor="end">-6</text>
</g>
<g font-family="Liberation Sans, Arial, Helvetica, sans-serif" font-weight="bold" fill="#141414">
<text transform="translate(179.6,268.7) scale(0.975,1)" font-size="13.1" text-anchor="middle">Time(s)</text>
<text transform="translate(534.1,268.7) scale(0.975,1)" font-size="13.1" text-anchor="middle">Time(s)</text>
<text transform="translate(10.9,121.8) rotate(-90) scale(0.985,1)" font-size="11.3" text-anchor="middle">Off-diagonal Elements Real Part</text>
<text transform="translate(372.7,122.8) rotate(-90) scale(0.992,1)" font-size="11.3" text-anchor="middle">Off-diagonal Elements Imaginary Part</text>
</g>
<g font-family="Liberation Sans, Arial, Helvetica, sans-serif" fill="#141414">
<text x="297.3" y="270.0" font-size="12" fill="#555">×</text>
<text x="305.4" y="268.6" font-size="9.6">10</text>
<text x="315.5" y="265.2" font-size="7.6">-8</text>
</g>
<g font-family="Liberation Sans, Arial, Helvetica, sans-serif" fill="#141414">
<text x="652.3" y="270.0" font-size="12" fill="#555">×</text>
<text x="660.4" y="268.6" font-size="9.6">10</text>
<text x="670.5" y="265.2" font-size="7.6">-8</text>
</g>
<g font-family="Liberation Serif, Times New Roman, serif" font-size="12.4" fill="#3a3a3a" text-anchor="middle">
<text x="171.1" y="286.9" letter-spacing="0.7">(a)</text>
<text x="525.7" y="286.9" letter-spacing="0.7">(b)</text>
</g>
<rect x="99.6" y="19.65" width="135.2" height="37.6" fill="#fff" stroke="#141414" stroke-width="1.5"/>
<path d="M102.60,26.85H130.20" stroke="#000" stroke-width="1.5"/>
<path d="M102.60,38.55H130.20" stroke="#f00" stroke-width="1.6" stroke-dasharray="6.8 1.7 3.5 1.7"/>
<path d="M102.60,50.15H130.20" stroke="#0f0" stroke-width="1.7" stroke-dasharray="2.0 1.35"/>
<g font-family="Liberation Sans, Arial, Helvetica, sans-serif" font-size="8.45" fill="#111">
<text x="132.30" y="29.65">Spin-Boson Model</text>
<text x="132.30" y="41.35">Gaussian Noise</text>
<text x="132.30" y="52.95">Ornstein-Uhlenbeck Noise</text>
</g>
<rect x="414.8" y="167.4" width="135.2" height="37.6" fill="#fff" stroke="#141414" stroke-width="1.5"/>
<path d="M417.80,174.60H445.40" stroke="#000" stroke-width="1.5"/>
<path d="M417.80,186.30H445.40" stroke="#f00" stroke-width="1.6" stroke-dasharray="6.8 1.7 3.5 1.7"/>
<path d="M417.80,197.90H445.40" stroke="#0f0" stroke-width="1.7" stroke-dasharray="2.0 1.35"/>
<g font-family="Liberation Sans, Arial, Helvetica, sans-serif" font-size="8.45" fill="#111">
<text x="448.30" y="177.40">Spin-Boson Model</text>
<text x="448.30" y="189.10">Gaussian Noise</text>
<text x="448.30" y="200.70">Ornstein-Uhlenbeck Noise</text>
</g>
</svg>
</body></html>
